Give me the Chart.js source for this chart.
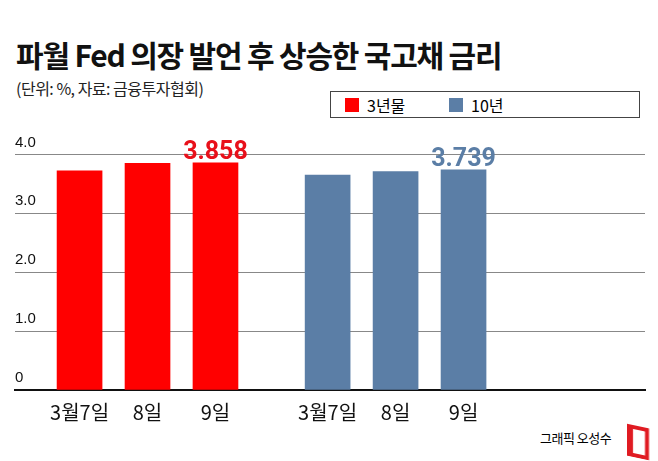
<!DOCTYPE html>
<html>
<head>
<meta charset="utf-8">
<script src="https://cdn.jsdelivr.net/npm/chart.js@4"></script>
<style>
  body { margin: 0; width: 658px; height: 461px; background: #fff; font-family: "Noto Sans CJK KR", sans-serif; position: relative; overflow: hidden; }
  #title { position: absolute; left: 16px; top: 32px; font-size: 30px; font-weight: bold; letter-spacing: -1.2px; color: #111; }
  #sub { position: absolute; left: 16px; top: 76px; font-size: 16px; color: #222; letter-spacing: -0.5px; }
  #legend { position: absolute; left: 330px; top: 91px; width: 308px; height: 25px; border: 1px solid #444; display: flex; align-items: center; font-size: 16px; }
  #legend span.box { display: inline-block; width: 14px; height: 14px; margin: 0 8px 0 14px; }
  #legend .item { display: flex; align-items: center; width: 104px; }
  #wrap { position: absolute; left: 0; top: 116px; width: 658px; height: 310px; }
  #credit { position: absolute; left: 540px; top: 428px; font-size: 13px; letter-spacing: -0.5px; }
  #logo { position: absolute; left: 627px; top: 426px; width: 12px; height: 24px; border: 4px solid #e01b22; border-left-width: 6px; transform: skewY(12deg); }
</style>
</head>
<body>
<div id="title">파월 Fed 의장 발언 후 상승한 국고채 금리</div>
<div id="sub">(단위: %, 자료: 금융투자협회)</div>
<div id="legend"></div>
<div id="wrap"><canvas id="chart"></canvas></div>
<div id="credit">그래픽 오성수</div>
<div id="logo"></div>
<script>
// 데이터
const dates = ["3월7일", "8일", "9일"];
const bond3y = [3.72, 3.85, 3.858];
const bond10y = [3.65, 3.71, 3.739];
const seriesNames = ["3년물", "10년"];
const colors = ["#ff0000", "#5b7ea6"];
const yTicks = [0, 1, 2, 3, 4];
const xPos3 = [0, 1, 2];
const xPos10 = [3.65, 4.65, 5.65];

// 범례
const legend = document.getElementById("legend");
seriesNames.forEach((name, i) => {
  const item = document.createElement("div");
  item.className = "item";
  item.innerHTML = `<span class="box" style="background:${colors[i]}"></span>${name}`;
  legend.appendChild(item);
});

const lastLabel = {
  id: "lastLabel",
  afterDatasetsDraw(chart) {
    const c = chart.ctx;
    chart.data.datasets.forEach((ds, i) => {
      const bar = chart.getDatasetMeta(i).data[2];
      c.save();
      c.font = "bold 25px 'Liberation Sans Narrow', 'Roboto', sans-serif";
      c.fillStyle = i === 0 ? "#e8101a" : colors[1];
      c.textAlign = "center";
      c.textBaseline = "bottom";
      c.fillText(ds.data[2].y.toFixed(3), bar.x, bar.y + 2);
      c.restore();
    });
  }
};

new Chart(document.getElementById("chart"), {
  type: "bar",
  data: {
    datasets: [
      { label: seriesNames[0], data: xPos3.map((x, i) => ({ x, y: bond3y[i] })), backgroundColor: colors[0], barThickness: 45, grouped: false },
      { label: seriesNames[1], data: xPos10.map((x, i) => ({ x, y: bond10y[i] })), backgroundColor: colors[1], barThickness: 45, grouped: false }
    ]
  },
  options: {
    responsive: true,
    maintainAspectRatio: false,
    animation: false,
    layout: { padding: { left: 15, right: 13, top: 6 } },
    plugins: { legend: { display: false }, tooltip: { enabled: false } },
    scales: {
      x: {
        type: "linear", min: -0.95, max: 8.32, offset: false,
        afterBuildTicks(axis) { axis.ticks = xPos3.concat(xPos10).map(v => ({ value: v })); },
        ticks: {
          autoSkip: false, maxRotation: 0, color: "#111", padding: 2,
          font: { size: 20, family: "'Liberation Sans Narrow', 'Noto Sans CJK KR', sans-serif" },
          callback: (v, i) => dates[i % 3]
        },
        grid: { display: false },
        border: { color: "#111", width: 2 }
      },
      y: {
        min: 0, max: 4.5,
        afterBuildTicks(axis) { axis.ticks = yTicks.map(v => ({ value: v })); },
        ticks: {
          mirror: true, padding: 0, labelOffset: -12, color: "#111",
          font: { size: 15, family: "'Liberation Sans Narrow', sans-serif" },
          callback: v => v === 0 ? "0" : v.toFixed(1)
        },
        grid: { color: c => c.tick.value === 0 ? "rgba(0,0,0,0)" : "#888", borderDash: [1, 2], drawTicks: false },
        border: { display: false }
      }
    }
  },
  plugins: [lastLabel]
});
</script>
</body>
</html>
